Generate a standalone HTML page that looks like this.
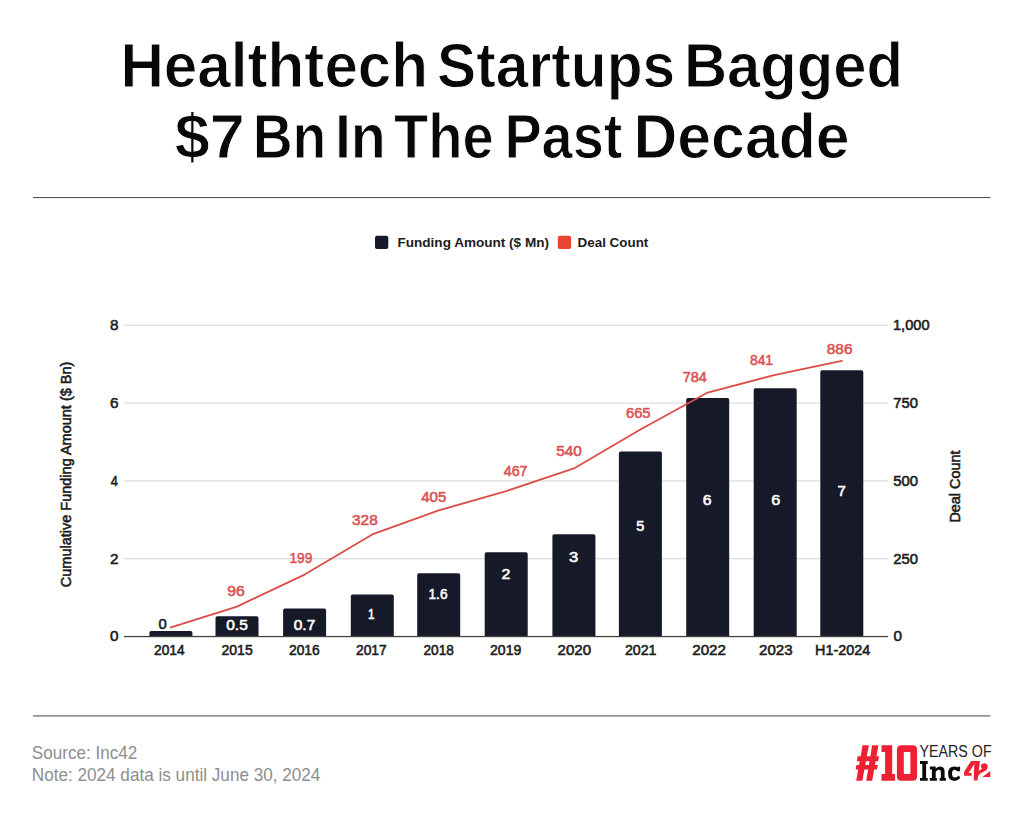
<!DOCTYPE html>
<html lang="en">
<head>
<meta charset="utf-8">
<title>Healthtech Startups Bagged $7 Bn In The Past Decade</title>
<style>
html,body{margin:0;padding:0;background:#ffffff;}
body{width:1024px;height:814px;overflow:hidden;position:relative;font-family:"Liberation Sans",sans-serif;}
svg{position:absolute;left:0;top:0;display:block;}
text{font-family:"Liberation Sans",sans-serif;}
.title{font-weight:700;font-size:63px;fill:#080808;stroke:#ffffff;stroke-width:1px;}
.ax{font-weight:400;font-size:14px;fill:#1c1c1c;stroke:#1c1c1c;stroke-width:0.55px;}
.bl{font-weight:400;font-size:14px;fill:#ffffff;stroke:#ffffff;stroke-width:0.55px;}
.ll{font-weight:400;font-size:14px;fill:#da5353;stroke:#da5353;stroke-width:0.55px;}
.at{font-weight:400;font-size:14px;fill:#1c1c1c;stroke:#1c1c1c;stroke-width:0.55px;}
.foot{font-size:17.7px;fill:#8e8e8e;}
.leg{font-weight:700;font-size:13.5px;fill:#1c1c1c;}
</style>
</head>
<body>
<svg width="1024" height="814" viewBox="0 0 1024 814">
<rect x="0" y="0" width="1024" height="814" fill="#ffffff"/>
<!-- title -->
<text class="title" x="120.4" y="86.75" textLength="307.7" lengthAdjust="spacingAndGlyphs">Healthtech</text>
<text class="title" x="437.0" y="86.75" textLength="238.2" lengthAdjust="spacingAndGlyphs">Startups</text>
<text class="title" x="683.9" y="86.75" textLength="219.2" lengthAdjust="spacingAndGlyphs">Bagged</text>
<text class="title" x="174.8" y="158.2" textLength="69.9" lengthAdjust="spacingAndGlyphs">&#36;7</text>
<text class="title" x="252.7" y="158.2" textLength="73.6" lengthAdjust="spacingAndGlyphs">Bn</text>
<text class="title" x="334.9" y="158.2" textLength="50.9" lengthAdjust="spacingAndGlyphs">In</text>
<text class="title" x="394.1" y="158.2" textLength="99.6" lengthAdjust="spacingAndGlyphs">The</text>
<text class="title" x="504.4" y="158.2" textLength="117.9" lengthAdjust="spacingAndGlyphs">Past</text>
<text class="title" x="633.4" y="158.2" textLength="216.3" lengthAdjust="spacingAndGlyphs">Decade</text>
<!-- rules -->
<rect x="33" y="197" width="957.5" height="1.05" fill="#505050"/>
<rect x="33" y="715.4" width="957.5" height="1.05" fill="#505050"/>
<!-- legend -->
<rect x="375" y="235.7" width="13.3" height="13.3" rx="2" fill="#161a28"/>
<text class="leg" x="397.5" y="247.1" textLength="151.5" lengthAdjust="spacingAndGlyphs">Funding Amount (&#36; Mn)</text>
<rect x="557.8" y="235.7" width="13.3" height="13.3" rx="2" fill="#e94334"/>
<text class="leg" x="577.6" y="247.1" textLength="70.7" lengthAdjust="spacingAndGlyphs">Deal Count</text>
<!-- gridlines -->
<rect x="124" y="558.10" width="764" height="1.2" fill="#dcdcdc"/>
<rect x="124" y="480.30" width="764" height="1.2" fill="#dcdcdc"/>
<rect x="124" y="402.50" width="764" height="1.2" fill="#dcdcdc"/>
<rect x="124" y="324.70" width="764" height="1.2" fill="#dcdcdc"/>
<!-- axis titles -->
<text class="at" transform="translate(70.7,587.2) rotate(-90)" x="0" y="0" textLength="225.6" lengthAdjust="spacingAndGlyphs">Cumulative Funding Amount (&#36; Bn)</text>
<text class="at" transform="translate(960.4,522.6) rotate(-90)" x="0" y="0" textLength="72.2" lengthAdjust="spacingAndGlyphs">Deal Count</text>
<!-- bars -->
<path d="M149.40 636.50 L149.40 632.80 Q149.40 631.00 151.20 631.00 L190.60 631.00 Q192.40 631.00 192.40 632.80 L192.40 636.50 Z" fill="#161a28"/>
<path d="M215.50 636.50 L215.50 618.10 Q215.50 616.30 217.30 616.30 L256.70 616.30 Q258.50 616.30 258.50 618.10 L258.50 636.50 Z" fill="#161a28"/>
<path d="M283.10 636.50 L283.10 610.40 Q283.10 608.60 284.90 608.60 L324.30 608.60 Q326.10 608.60 326.10 610.40 L326.10 636.50 Z" fill="#161a28"/>
<path d="M350.80 636.50 L350.80 596.20 Q350.80 594.40 352.60 594.40 L392.00 594.40 Q393.80 594.40 393.80 596.20 L393.80 636.50 Z" fill="#161a28"/>
<path d="M417.20 636.50 L417.20 575.00 Q417.20 573.20 419.00 573.20 L458.40 573.20 Q460.20 573.20 460.20 575.00 L460.20 636.50 Z" fill="#161a28"/>
<path d="M484.70 636.50 L484.70 554.00 Q484.70 552.20 486.50 552.20 L525.90 552.20 Q527.70 552.20 527.70 554.00 L527.70 636.50 Z" fill="#161a28"/>
<path d="M552.40 636.50 L552.40 536.10 Q552.40 534.30 554.20 534.30 L593.60 534.30 Q595.40 534.30 595.40 536.10 L595.40 636.50 Z" fill="#161a28"/>
<path d="M618.90 636.50 L618.90 453.20 Q618.90 451.40 620.70 451.40 L660.10 451.40 Q661.90 451.40 661.90 453.20 L661.90 636.50 Z" fill="#161a28"/>
<path d="M686.20 636.50 L686.20 399.90 Q686.20 398.10 688.00 398.10 L727.40 398.10 Q729.20 398.10 729.20 399.90 L729.20 636.50 Z" fill="#161a28"/>
<path d="M753.70 636.50 L753.70 390.00 Q753.70 388.20 755.50 388.20 L794.90 388.20 Q796.70 388.20 796.70 390.00 L796.70 636.50 Z" fill="#161a28"/>
<path d="M820.30 636.50 L820.30 372.00 Q820.30 370.20 822.10 370.20 L861.50 370.20 Q863.30 370.20 863.30 372.00 L863.30 636.50 Z" fill="#161a28"/>
<!-- baseline -->
<rect x="124" y="635.90" width="764" height="1.3" fill="#444444"/>
<!-- deal count line -->
<polyline points="170.90,627.48 237.00,606.62 304.60,574.57 372.30,534.43 438.70,510.46 506.20,491.17 573.90,468.45 640.40,429.55 707.70,392.52 775.20,374.78 841.80,360.78" fill="none" stroke="#db4d48" stroke-width="1.8" stroke-linejoin="round" stroke-linecap="round"/>
<!-- labels -->
<text class="ax" x="154.02" y="655.00" textLength="30.54" lengthAdjust="spacingAndGlyphs">2014</text>
<text class="ax" x="221.50" y="655.00" textLength="31.24" lengthAdjust="spacingAndGlyphs">2015</text>
<text class="ax" x="288.98" y="655.00" textLength="30.80" lengthAdjust="spacingAndGlyphs">2016</text>
<text class="ax" x="356.02" y="655.00" textLength="30.72" lengthAdjust="spacingAndGlyphs">2017</text>
<text class="ax" x="423.50" y="655.00" textLength="30.28" lengthAdjust="spacingAndGlyphs">2018</text>
<text class="ax" x="490.02" y="655.00" textLength="31.24" lengthAdjust="spacingAndGlyphs">2019</text>
<text class="ax" x="557.50" y="655.00" textLength="33.52" lengthAdjust="spacingAndGlyphs">2020</text>
<text class="ax" x="624.98" y="655.00" textLength="31.52" lengthAdjust="spacingAndGlyphs">2021</text>
<text class="ax" x="692.22" y="655.00" textLength="33.76" lengthAdjust="spacingAndGlyphs">2022</text>
<text class="ax" x="759.00" y="655.00" textLength="33.52" lengthAdjust="spacingAndGlyphs">2023</text>
<text class="ax" x="815.02" y="655.00" textLength="55.28" lengthAdjust="spacingAndGlyphs">H1-2024</text>
<text class="ax" x="109.98" y="641.30" textLength="8.52" lengthAdjust="spacingAndGlyphs">0</text>
<text class="ax" x="109.98" y="563.50" textLength="8.52" lengthAdjust="spacingAndGlyphs">2</text>
<text class="ax" x="110.68" y="485.70" textLength="7.12" lengthAdjust="spacingAndGlyphs">4</text>
<text class="ax" x="109.98" y="407.90" textLength="8.52" lengthAdjust="spacingAndGlyphs">6</text>
<text class="ax" x="109.98" y="330.10" textLength="8.52" lengthAdjust="spacingAndGlyphs">8</text>
<text class="ax" x="893.50" y="641.30" textLength="8.52" lengthAdjust="spacingAndGlyphs">0</text>
<text class="ax" x="893.26" y="563.50" textLength="24.76" lengthAdjust="spacingAndGlyphs">250</text>
<text class="ax" x="893.26" y="485.70" textLength="24.76" lengthAdjust="spacingAndGlyphs">500</text>
<text class="ax" x="893.26" y="407.90" textLength="24.76" lengthAdjust="spacingAndGlyphs">750</text>
<text class="ax" x="893.00" y="330.10" textLength="36.52" lengthAdjust="spacingAndGlyphs">1,000</text>
<text class="ax" x="158.50" y="628.60" textLength="8.28" lengthAdjust="spacingAndGlyphs">0</text>
<text class="bl" x="226.22" y="629.80" textLength="21.56" lengthAdjust="spacingAndGlyphs">0.5</text>
<text class="bl" x="293.76" y="629.80" textLength="21.52" lengthAdjust="spacingAndGlyphs">0.7</text>
<text class="bl" x="368.00" y="619.20" textLength="6.56" lengthAdjust="spacingAndGlyphs">1</text>
<text class="bl" x="428.52" y="599.00" textLength="19.02" lengthAdjust="spacingAndGlyphs">1.6</text>
<text class="bl" x="501.48" y="578.70" textLength="8.78" lengthAdjust="spacingAndGlyphs">2</text>
<text class="bl" x="569.02" y="561.70" textLength="9.24" lengthAdjust="spacingAndGlyphs">3</text>
<text class="bl" x="636.22" y="530.50" textLength="8.04" lengthAdjust="spacingAndGlyphs">5</text>
<text class="bl" x="702.76" y="504.90" textLength="8.78" lengthAdjust="spacingAndGlyphs">6</text>
<text class="bl" x="771.24" y="504.90" textLength="9.02" lengthAdjust="spacingAndGlyphs">6</text>
<text class="bl" x="837.48" y="496.30" textLength="8.30" lengthAdjust="spacingAndGlyphs">7</text>
<text class="ll" x="227.24" y="596.30" textLength="17.50" lengthAdjust="spacingAndGlyphs">96</text>
<text class="ll" x="289.52" y="563.30" textLength="22.76" lengthAdjust="spacingAndGlyphs">199</text>
<text class="ll" x="352.02" y="525.20" textLength="25.74" lengthAdjust="spacingAndGlyphs">328</text>
<text class="ll" x="421.20" y="501.80" textLength="25.06" lengthAdjust="spacingAndGlyphs">405</text>
<text class="ll" x="503.70" y="475.90" textLength="23.84" lengthAdjust="spacingAndGlyphs">467</text>
<text class="ll" x="556.24" y="456.30" textLength="25.54" lengthAdjust="spacingAndGlyphs">540</text>
<text class="ll" x="626.00" y="418.10" textLength="24.54" lengthAdjust="spacingAndGlyphs">665</text>
<text class="ll" x="682.74" y="382.10" textLength="24.06" lengthAdjust="spacingAndGlyphs">784</text>
<text class="ll" x="749.98" y="365.00" textLength="23.02" lengthAdjust="spacingAndGlyphs">841</text>
<text class="ll" x="826.76" y="354.10" textLength="25.76" lengthAdjust="spacingAndGlyphs">886</text>
<!-- footer -->
<text class="foot" x="31.8" y="759.2" textLength="105.4" lengthAdjust="spacingAndGlyphs">Source: Inc42</text>
<text class="foot" x="31.8" y="780.9" textLength="288.6" lengthAdjust="spacingAndGlyphs">Note: 2024 data is until June 30, 2024</text>
<g id="logo">
<!-- "#10" -->
<g fill="#ee2034">
<polygon points="856.2,780.7 862.3,780.7 868.9,745.3 862.6,745.3"/>
<polygon points="866.2,780.7 872.2,780.7 878.4,745.3 872.2,745.3"/>
<polygon points="857.6,756.2 879.0,756.2 878.2,761.2 856.8,761.2"/>
<polygon points="856.4,764.9 877.8,764.9 877.0,769.4 855.6,769.4"/>
<polygon points="881.5,745.3 892.2,745.3 892.2,773.9 895.1,773.9 895.1,780.7 881.5,780.7 881.5,773.9 885.1,773.9 885.1,752.0 881.5,752.0"/>
<path fill-rule="evenodd" d="M901.4 745.3 H912.6 Q917.1 745.3 917.1 749.8 V776.2 Q917.1 780.7 912.6 780.7 H901.4 Q896.9 780.7 896.9 776.2 V749.8 Q896.9 745.3 901.4 745.3 Z M904.6 751.9 Q903.8 751.9 903.8 752.7 V773.1 Q903.8 773.9 904.6 773.9 H909.6 Q910.4 773.9 910.4 773.1 V752.7 Q910.4 751.9 909.6 751.9 Z"/>
</g>
<!-- YEARS OF -->
<text x="919.6" y="756.8" textLength="72" lengthAdjust="spacingAndGlyphs" style="font-size:15.8px;fill:#222222;font-weight:400">YEARS OF</text>
<!-- Inc (slab serif, drawn) -->
<g fill="#0b0b0b">
<path d="M920.0 761.0 H927.7 V764.1 H926.1 V778.0 H927.7 V780.7 H920.0 V778.0 H922.3 V764.1 H920.0 Z"/>
<path d="M929.8 766.6 H935.7 V768.4 Q937.8 766.3 940.6 766.4 Q944.6 766.7 944.6 771.4 V778.0 H945.9 V780.7 H939.6 V778.0 H940.85 V772.0 Q940.85 769.8 939.1 769.8 Q937.0 769.9 935.7 771.9 V778.0 H936.9 V780.7 H929.8 V778.0 H931.9 V769.5 H929.8 Z"/>
<path d="M960.1 766.7 V771.3 H957.1 Q956.4 769.8 954.7 769.8 Q952.0 769.9 952.0 773.6 Q952.0 777.5 954.9 777.5 Q957.3 777.5 958.6 775.6 L960.3 777.6 Q958.3 780.9 954.4 780.9 Q948.1 780.8 948.1 773.6 Q948.1 766.4 954.3 766.4 Q956.4 766.4 957.6 767.5 V766.7 Z"/>
</g>
<!-- 42 -->
<g fill="#ee2034">
<polygon points="971.05,761.0 975.0,761.0 974.3,764.0 968.55,773.1 971.6,773.1 971.6,775.8 964.1,775.8 964.1,771.7"/>
<polygon points="974.3,761.0 980.0,761.0 977.5,780.6 973.9,780.6 973.85,773.1 974.3,764.0"/>
<path d="M981.0 765.2 C982.0 762.5 986.5 762.3 987.5 765.6 C988.4 768.7 986.1 770.4 984.7 771.1 L980.0 773.7 L977.8 776.6 L978.3 771.0 C980.6 770.0 981.6 769.2 981.9 768.2 C980.8 767.4 980.6 766.2 981.0 765.2 Z"/>
<polygon points="982.4,777.1 990.3,777.1 990.3,770.9"/>
</g>
</g>

</svg>
</body>
</html>
